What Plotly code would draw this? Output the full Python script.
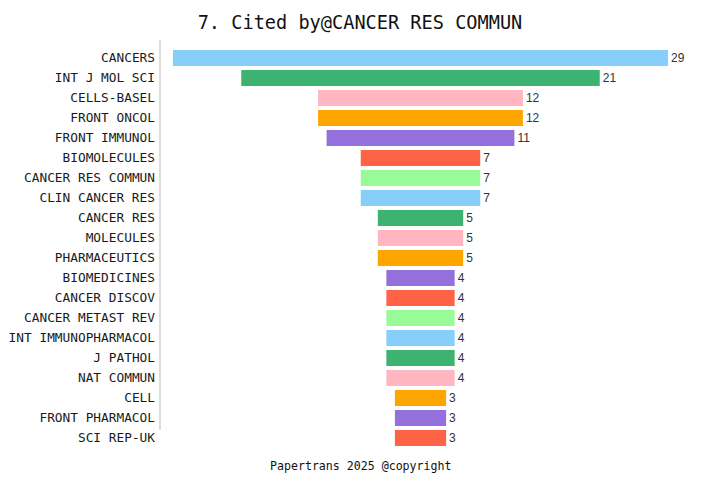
import plotly.graph_objects as go

categories = ["CANCERS", "INT J MOL SCI", "CELLS-BASEL", "FRONT ONCOL", "FRONT IMMUNOL",
              "BIOMOLECULES", "CANCER RES COMMUN", "CLIN CANCER RES", "CANCER RES", "MOLECULES",
              "PHARMACEUTICS", "BIOMEDICINES", "CANCER DISCOV", "CANCER METAST REV",
              "INT IMMUNOPHARMACOL", "J PATHOL", "NAT COMMUN", "CELL", "FRONT PHARMACOL", "SCI REP-UK"]
values = [29, 21, 12, 12, 11, 7, 7, 7, 5, 5, 5, 4, 4, 4, 4, 4, 4, 3, 3, 3]
palette = ["#87CEFA", "#3CB371", "#FFB6C1", "#FFA500", "#9370DB", "#FF6347", "#98FB98"]
colors = [palette[i % len(palette)] for i in range(len(values))]

mono = "DejaVu Sans Mono"

fig = go.Figure(go.Bar(
    y=categories, x=values, base=[-v / 2 for v in values], orientation="h",
    marker=dict(color=colors, line=dict(width=0)),
    text=[str(v) for v in values], textposition="outside",
    textfont=dict(family="Liberation Sans", size=12, color="#333333"),
    cliponaxis=False, width=0.8,
))

R = 15.26
fig.update_layout(
    width=720, height=480,
    margin=dict(l=160, r=39, t=48, b=32),
    plot_bgcolor="white", paper_bgcolor="white",
    showlegend=False,
    title=dict(text="7. Cited by@CANCER RES COMMUN", x=0.5, xanchor="center",
               y=1 - 22 / 480, yanchor="middle",
               font=dict(family=mono, size=18.6, color="#111111")),
    xaxis=dict(range=[-R, R], visible=False, showgrid=False, zeroline=False,
               automargin=False),
    yaxis=dict(autorange="reversed", showgrid=False, zeroline=False, showline=False,
               ticks="", ticklabelstandoff=4, automargin=False,
               tickfont=dict(family=mono, size=12.8, color="#1a1a1a")),
    shapes=[dict(type="line", xref="paper", yref="paper", x0=0, x1=0,
                 y0=(448 - 430) / 400, y1=(448 - 40) / 400,
                 line=dict(color="#dddddd", width=2))],
    annotations=[dict(text="Papertrans 2025 @copyright", xref="paper", yref="paper",
                      x=(360 - 160) / 521, y=-(466 - 448) / 400, xanchor="center",
                      yanchor="middle", showarrow=False,
                      font=dict(family=mono, size=11.6, color="#111111"))],
)

fig.write_html("out.html")
